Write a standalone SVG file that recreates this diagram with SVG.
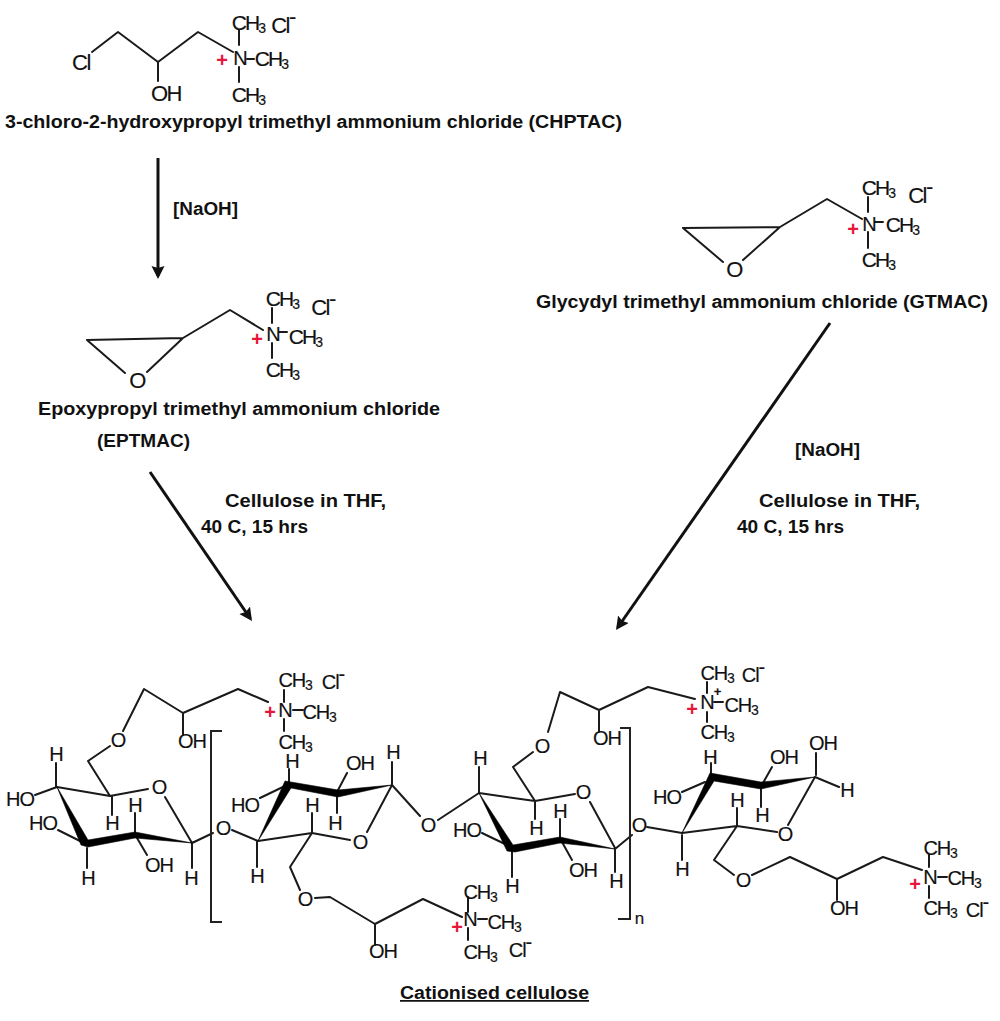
<svg xmlns="http://www.w3.org/2000/svg" width="1000" height="1021" viewBox="0 0 1000 1021">
<style>
text{font-family:"Liberation Sans",Arial,sans-serif;fill:#111}
.a{font-size:20px;text-anchor:middle;letter-spacing:-1px;stroke:#111;stroke-width:.15}
.t{font-size:22px;text-anchor:middle;letter-spacing:-1.5px;stroke:#111;stroke-width:.15}
.c{font-size:21px;text-anchor:middle;letter-spacing:-1.8px;stroke:#111;stroke-width:.15}
.d{font-size:20px;text-anchor:middle;letter-spacing:-1.3px;stroke:#111;stroke-width:.15}
.s{font-size:14px}
.p{font-size:20px;text-anchor:middle;fill:#e8173a;font-weight:bold}
.l{font-size:17.5px;font-weight:bold;fill:#111}
.b{fill:none;stroke:#1a1a1a;stroke-width:2;stroke-linejoin:round;stroke-linecap:round}
.w{fill:#000;stroke:#000;stroke-width:.6;stroke-linejoin:round}
.br{fill:none;stroke:#222;stroke-width:2}
.ar{fill:none;stroke:#111;stroke-width:3}
</style>
<defs>
<marker id="head" markerUnits="userSpaceOnUse" markerWidth="15" markerHeight="14" refX="10" refY="6.5" orient="auto"><path d="M0 0L13 6.5L0 13L2 6.5Z" fill="#111"/></marker>
</defs>
<rect width="1000" height="1021" fill="#fff"/>

<g id="connectors">
<line class="ar" x1="158" y1="158" x2="158" y2="276" marker-end="url(#head)"/>
<line class="ar" x1="150" y1="472" x2="250.3" y2="618.5" marker-end="url(#head)"/>
<line class="ar" x1="830" y1="323" x2="617.7" y2="627.5" marker-end="url(#head)"/>
</g>

<g id="chptac">
<path class="b" d="M92 52L118 32L158 62L198 32L233 52M158 62V81M239 30V45M239 67V82M247 59H254"/>
<text class="t" x="81" y="70">Cl</text>
<text class="t" x="166" y="101">OH</text>
<text class="a" x="240" y="65">N</text>
<text class="p" x="222" y="67">+</text>
<text class="c" x="248" y="30">CH<tspan class="s" dy="3">3</tspan></text>
<text class="c" x="271" y="66">CH<tspan class="s" dy="3">3</tspan></text>
<text class="c" x="248" y="102">CH<tspan class="s" dy="3">3</tspan></text>
<text class="t" x="283" y="33">Cl<tspan dy="-9">-</tspan></text>
<text class="l" x="5" y="128" textLength="617" lengthAdjust="spacingAndGlyphs">3-chloro-2-hydroxypropyl trimethyl ammonium chloride (CHPTAC)</text>
</g>

<g id="eptmac">
<path class="b" d="M87 340L183 338M87 340L125 373M147 372L183 338L230 310L263 330M272 308V323M272 343V358M279 332H287"/>
<text class="t" x="137" y="388">O</text>
<text class="a" x="273" y="341">N</text>
<text class="p" x="257" y="346">+</text>
<text class="c" x="282" y="306">CH<tspan class="s" dy="3">3</tspan></text>
<text class="c" x="305" y="344">CH<tspan class="s" dy="3">3</tspan></text>
<text class="c" x="282" y="377">CH<tspan class="s" dy="3">3</tspan></text>
<text class="t" x="323" y="315">Cl<tspan dy="-9">-</tspan></text>
<text class="l" x="38" y="415" textLength="402" lengthAdjust="spacingAndGlyphs">Epoxypropyl trimethyl ammonium chloride</text>
<text class="l" x="97" y="447" textLength="93" lengthAdjust="spacingAndGlyphs">(EPTMAC)</text>
</g>

<g id="gtmac">
<path class="b" d="M683 228L780 227M683 228L723 262M743 260L780 227L827 199L862 219M868 197V212M868 232V248M875 222H883"/>
<text class="t" x="734" y="277">O</text>
<text class="a" x="869" y="231">N</text>
<text class="p" x="853" y="236">+</text>
<text class="c" x="878" y="195">CH<tspan class="s" dy="3">3</tspan></text>
<text class="c" x="902" y="232">CH<tspan class="s" dy="3">3</tspan></text>
<text class="c" x="878" y="267">CH<tspan class="s" dy="3">3</tspan></text>
<text class="t" x="920" y="203">Cl<tspan dy="-9">-</tspan></text>
<text class="l" x="536" y="308" textLength="452" lengthAdjust="spacingAndGlyphs">Glycydyl trimethyl ammonium chloride (GTMAC)</text>
</g>

<g id="cellulose">
<!-- ring 1 -->
<path class="b" d="M123 731L144 689L183 713L238 689L268 702M183 713V735M284 690V702M284 719V731M293 710H303M110 746L88 761L110 796M57 787L110 796L148 789M165 797L192 843M56 763V787M35 795L57 787M58 830L82 842M87 848V868M135 813V832M137 838L147 855M192 843V868M112 796V815M192 843L213 833"/>
<polygon class="w" points="57,787 81,845 88,847 135,838 192,843 135,832 88,840"/>
<text class="a" x="118" y="747">O</text>
<text class="a" x="192" y="748">OH</text>
<text class="a" x="285" y="717">N</text>
<text class="p" x="270" y="719">+</text>
<text class="d" x="295" y="687">CH<tspan class="s" dy="3">3</tspan></text>
<text class="d" x="319" y="719">CH<tspan class="s" dy="3">3</tspan></text>
<text class="d" x="295" y="749">CH<tspan class="s" dy="3">3</tspan></text>
<text class="a" x="333" y="689">Cl<tspan dy="-8">-</tspan></text>
<text class="a" x="56" y="761">H</text>
<text class="a" x="20" y="806">HO</text>
<text class="a" x="159" y="794">O</text>
<text class="a" x="43" y="830">HO</text>
<text class="a" x="88" y="885">H</text>
<text class="a" x="135" y="812">H</text>
<text class="a" x="159" y="872">OH</text>
<text class="a" x="191" y="885">H</text>
<text class="a" x="112" y="830">H</text>
<text class="a" x="223" y="835">O</text>
<!-- ring 2 -->
<path class="b" d="M232 830L258 841L312 833L350 840M367 832L392 785M260 798L287 785M289 769V782M257 842V867M312 813V833M312 833L290 867L300 890M337 795V813M347 773L337 792M392 762V784M392 785L420 816M438 820L479 793M315 898L330 897L375 924L423 899L462 917M375 924V945M468 897V912M468 928V940M478 919H487"/>
<polygon class="w" points="258,841 285,781 338,790 392,785 338,797 291,788"/>
<text class="a" x="245" y="812">HO</text>
<text class="a" x="292" y="768">H</text>
<text class="a" x="257" y="883">H</text>
<text class="a" x="312" y="812">H</text>
<text class="a" x="335" y="830">H</text>
<text class="a" x="360" y="770">OH</text>
<text class="a" x="393" y="759">H</text>
<text class="a" x="360" y="849">O</text>
<text class="a" x="428" y="832">O</text>
<text class="a" x="305" y="906">O</text>
<text class="a" x="383" y="958">OH</text>
<text class="a" x="470" y="926">N</text>
<text class="p" x="457" y="934">+</text>
<text class="d" x="480" y="899">CH<tspan class="s" dy="3">3</tspan></text>
<text class="d" x="504" y="929">CH<tspan class="s" dy="3">3</tspan></text>
<text class="d" x="480" y="959">CH<tspan class="s" dy="3">3</tspan></text>
<text class="a" x="520" y="957">Cl<tspan dy="-8">-</tspan></text>
<!-- ring 3 -->
<path class="b" d="M479 767V792M479 793L535 801L575 794M590 802L615 848M535 801L513 767L533 752M548 732L560 692L599 710L648 687L695 699M599 710V732M482 833L507 845M512 852V877M560 819V837M535 802V819M562 842L572 860M615 850V872M615 849L632 835M707 682V693M707 712V722M714 702H723"/>
<polygon class="w" points="479,793 507,851 515,852 560,843 615,849 560,837 513,845"/>
<text class="a" x="480" y="765">H</text>
<text class="a" x="583" y="799">O</text>
<text class="a" x="542" y="753">O</text>
<text class="a" x="607" y="745">OH</text>
<text class="a" x="467" y="837">HO</text>
<text class="a" x="512" y="893">H</text>
<text class="a" x="560" y="818">H</text>
<text class="a" x="536" y="835">H</text>
<text class="a" x="583" y="877">OH</text>
<text class="a" x="616" y="888">H</text>
<text class="a" x="639" y="832">O</text>
<text class="a" x="707" y="709">N</text>
<text class="p" x="692" y="716">+</text>
<text class="a" x="717" y="696" style="font-size:13px;font-weight:bold">+</text>
<text class="d" x="717" y="680">CH<tspan class="s" dy="3">3</tspan></text>
<text class="d" x="741" y="712">CH<tspan class="s" dy="3">3</tspan></text>
<text class="d" x="717" y="739">CH<tspan class="s" dy="3">3</tspan></text>
<text class="a" x="753" y="682">Cl<tspan dy="-8">-</tspan></text>
<!-- ring 4 -->
<path class="b" d="M647 827L682 833L737 826L777 832M815 777L788 825M737 808V826M761 788V807M711 763V773M682 792L705 782M772 767L763 783M816 775V753M815 777L839 787M682 835V860M737 826L714 860L734 875M752 875L790 857L837 879L883 857L922 870M837 879V900M929 855V867M929 886V898M938 877H947"/>
<polygon class="w" points="682,833 710,773 761,782 815,777 761,789 714,781"/>
<text class="a" x="785" y="841">O</text>
<text class="a" x="737" y="807">H</text>
<text class="a" x="762" y="822">H</text>
<text class="a" x="710" y="764">H</text>
<text class="a" x="667" y="804">HO</text>
<text class="a" x="784" y="764">OH</text>
<text class="a" x="823" y="750">OH</text>
<text class="a" x="847" y="797">H</text>
<text class="a" x="682" y="876">H</text>
<text class="a" x="743" y="887">O</text>
<text class="a" x="844" y="915">OH</text>
<text class="a" x="930" y="884">N</text>
<text class="p" x="915" y="891">+</text>
<text class="d" x="940" y="855">CH<tspan class="s" dy="3">3</tspan></text>
<text class="d" x="964" y="885">CH<tspan class="s" dy="3">3</tspan></text>
<text class="d" x="940" y="915">CH<tspan class="s" dy="3">3</tspan></text>
<text class="a" x="977" y="917">Cl<tspan dy="-8">-</tspan></text>
<!-- brackets -->
<path class="br" d="M222 731H211V922H222"/>
<path class="br" d="M620 728H630V919H618"/>
<text class="a" x="639" y="924" style="font-size:17px">n</text>
<text class="l" x="400" y="999" textLength="189" lengthAdjust="spacingAndGlyphs" text-decoration="underline">Cationised cellulose</text>
</g>

<g id="conditions">
<text class="l" x="173" y="215" textLength="65" lengthAdjust="spacingAndGlyphs">[NaOH]</text>
<text class="l" x="225" y="507" textLength="161" lengthAdjust="spacingAndGlyphs">Cellulose in THF,</text>
<text class="l" x="201" y="533" textLength="107" lengthAdjust="spacingAndGlyphs">40 C, 15 hrs</text>
<text class="l" x="795" y="456" textLength="65" lengthAdjust="spacingAndGlyphs">[NaOH]</text>
<text class="l" x="759" y="507" textLength="161" lengthAdjust="spacingAndGlyphs">Cellulose in THF,</text>
<text class="l" x="737" y="533" textLength="107" lengthAdjust="spacingAndGlyphs">40 C, 15 hrs</text>
</g>
</svg>
